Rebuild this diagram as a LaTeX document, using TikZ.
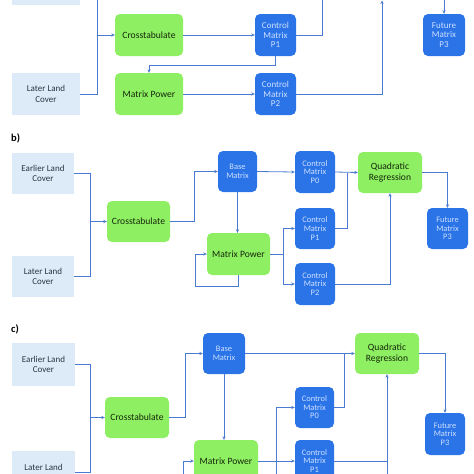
\documentclass[tikz,border=0pt]{standalone}
\usepackage{fontspec}
\setmainfont{Carlito}
\usetikzlibrary{arrows.meta,calc}
\definecolor{lblue}{HTML}{DDEBF8}
\definecolor{lgreen}{HTML}{8FEF62}
\definecolor{mblue}{HTML}{2A74E8}
\definecolor{btext}{HTML}{CFE0FF}
\definecolor{ltext}{HTML}{2B3440}
\definecolor{gtext}{HTML}{14280C}
\definecolor{wire}{HTML}{4A7BD0}
\tikzset{
  inbox/.style={fill=lblue, draw=none, align=center, inner sep=0pt, text=ltext,
    font=\fontsize{9}{10.5}\selectfont},
  procbox/.style={fill=lgreen, draw=none, rounded corners=5pt, align=center, inner sep=0pt,
    text=gtext, font=\fontsize{9.6}{11}\selectfont},
  matbox/.style={fill=mblue, draw=none, rounded corners=5pt, align=center, inner sep=0pt,
    text=btext, font=\fontsize{9}{9.4}\selectfont},
  matboxs/.style={matbox, font=\fontsize{8.4}{8.6}\selectfont},
  wirel/.style={draw=wire, line width=0.8pt},
  arr/.style={wirel, -{Stealth[length=3.5pt,width=3.2pt]}},
  plabel/.style={anchor=west, inner sep=0pt, font=\bfseries\fontsize{10.5}{12}\selectfont, text=black},
}
\begin{document}
\begin{tikzpicture}[x=1pt,y=-1pt]
\useasboundingbox (0,0) rectangle (474,474);
\clip (0,0) rectangle (474,474);
% ---------------- panel a ----------------
\node[inbox, minimum width=68pt, minimum height=42pt] (aE) at (46,-16) {};
\node[inbox, minimum width=68pt, minimum height=42pt] (aL) at (46,94) {Later Land\\Cover};
\node[procbox, minimum width=68pt, minimum height=42pt] (aC) at (149,35) {Crosstabulate};
\node[procbox, minimum width=68pt, minimum height=42pt] (aMP) at (149,94) {Matrix Power};
\node[matbox, minimum width=41pt, minimum height=42pt] (aP1) at (275.5,35) {Control\\Matrix\\P1};
\node[matbox, minimum width=41pt, minimum height=42pt] (aP2) at (275.5,94) {Control\\Matrix\\P2};
\node[matbox, minimum width=42pt, minimum height=42pt] (aP3) at (444,35) {Future\\Matrix\\P3};
\coordinate (aJ) at (97,35);
\coordinate (aK) at (149,65);
\coordinate (aT1) at (322,-10);
\coordinate (aT2) at (382,0.5);
\coordinate (aT3) at (444,-10);
\draw[wirel] (aE.east) -| (aJ);
\draw[wirel] (aL.east) -| (aJ);
\draw[arr] (aJ) -- (aC.west);
\draw[arr] (aC.east) -- (aP1.west);
\draw[wirel] (aP1.east) -| (aT1);
\draw[arr] (aP1.south) |- (aK) -- (aMP.north);
\draw[arr] (aMP.east) -- (aP2.west);
\draw[arr] (aP2.east) -| (aT2);
\draw[arr] (aT3) -- (aP3.north);
% ---------------- panel b ----------------
\node[plabel] (bLab) at (11,138) {b)};
\node[inbox, minimum width=62pt, minimum height=41pt] (bE) at (43,173.5) {Earlier Land\\Cover};
\node[inbox, minimum width=62pt, minimum height=41pt] (bL) at (43,276.5) {Later Land\\Cover};
\node[procbox, minimum width=63pt, minimum height=41pt] (bC) at (138.5,221.5) {Crosstabulate};
\node[matboxs, minimum width=39pt, minimum height=41pt] (bB) at (237.5,171.5) {Base\\Matrix};
\node[matboxs, minimum width=40pt, minimum height=42pt] (bP0) at (315,172) {Control\\Matrix\\P0};
\node[procbox, minimum width=63pt, minimum height=42pt] (bMP) at (238.5,254) {Matrix Power};
\node[matboxs, minimum width=40pt, minimum height=41pt] (bP1) at (315,228.5) {Control\\Matrix\\P1};
\node[matboxs, minimum width=40pt, minimum height=42pt] (bP2) at (315,284) {Control\\Matrix\\P2};
\node[procbox, minimum width=64pt, minimum height=41pt] (bQ) at (390,172.5) {Quadratic\\Regression};
\node[matboxs, minimum width=41pt, minimum height=41pt] (bP3) at (447.5,228.5) {Future\\Matrix\\P3};
\coordinate (bJ) at (90,221.5);
\coordinate (bK) at (194,221.5);
\coordinate (bS1) at (238.5,286);
\coordinate (bS2) at (195,286);
\coordinate (bF) at (283,254);
\coordinate (bM) at (347,172.5);
\draw[wirel] (bE.east) -| (bJ);
\draw[wirel] (bL.east) -| (bJ);
\draw[arr] (bJ) -- (bC.west);
\draw[arr] (bC.east) -- (bK) |- (bB.west);
\draw[arr] (bB.east) -- (bP0.west);
\draw[arr] (bB.south) -- (bB.south |- bMP.north);
\draw[arr] (bMP.south) -- (bS1) -- (bS2) |- (bMP.west);
\draw[wirel] (bMP.east) -- (bF);
\draw[arr] (bF) |- (bP1.west);
\draw[arr] (bF) |- (bP2.west);
\draw[arr] (bP0.east) -- (bQ.west);
\draw[wirel] (bP1.east) -| (bM);
\draw[arr] (bP2.east) -| (bQ.south);
\draw[arr] (bQ.east) -| (bP3.north);
% ---------------- panel c ----------------
\node[plabel] (cLab) at (11,329) {c)};
\node[inbox, minimum width=63pt, minimum height=43pt] (cE) at (43.5,364.5) {Earlier Land\\Cover};
\node[inbox, minimum width=63pt, minimum height=43pt] (cL) at (43.5,472.5) {Later Land\\Cover};
\node[procbox, minimum width=64pt, minimum height=41pt] (cC) at (137,417.5) {Crosstabulate};
\node[matboxs, minimum width=42pt, minimum height=41pt] (cB) at (224,353.5) {Base\\Matrix};
\node[procbox, minimum width=64pt, minimum height=41pt] (cQ) at (387,353.5) {Quadratic\\Regression};
\node[procbox, minimum width=64pt, minimum height=42pt] (cMP) at (226,461) {Matrix Power};
\node[matboxs, minimum width=39pt, minimum height=41pt] (cP0) at (314.5,407.5) {Control\\Matrix\\P0};
\node[matboxs, minimum width=39pt, minimum height=42pt] (cP1) at (314.5,461) {Control\\Matrix\\P1};
\node[matboxs, minimum width=40pt, minimum height=42pt] (cP3) at (445,434) {Future\\Matrix\\P3};
\coordinate (cJ) at (90,417.5);
\coordinate (cK) at (185,417.5);
\coordinate (cM) at (344,353.5);
\coordinate (cV1) at (276,490);
\coordinate (cV2) at (183,490);
\coordinate (cV3) at (387,490);
\coordinate (cN) at (387,461);
\draw[wirel] (cE.east) -| (cJ);
\draw[wirel] (cL.east) -| (cJ);
\draw[arr] (cJ) -- (cC.west);
\draw[arr] (cC.east) -- (cK) |- (cB.west);
\draw[arr] (cB.east) -- (cQ.west);
\draw[arr] (cB.south) -- (cB.south |- cMP.north);
\draw[wirel] (cP0.east) -| (cM);
\draw[arr] (cQ.east) -| (cP3.north);
\draw[arr] (cMP.east) -- (cP1.west);
\draw[arr] (cV1) |- (cP0.west);
\draw[arr] (cV2) |- (cMP.west);
\draw[wirel] (cP1.east) -- (cN);
\draw[arr] (cV3) -- (cQ.south);
\end{tikzpicture}
\end{document}
